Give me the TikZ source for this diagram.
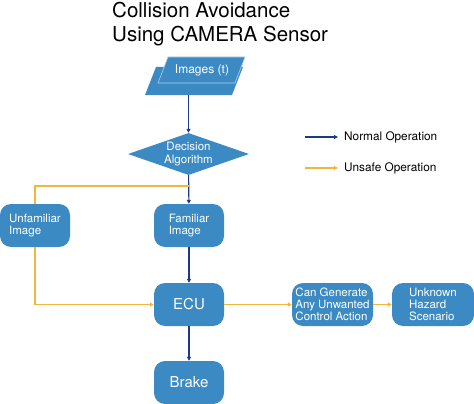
\documentclass[tikz,border=0pt]{standalone}
\usepackage{fontspec}
\setmainfont{TeX Gyre Heros}
\usetikzlibrary{shapes.geometric,arrows.meta}

\definecolor{boxblue}{HTML}{3B8AC4}
\definecolor{navy}{HTML}{1B3A8C}
\definecolor{amber}{HTML}{F4B63A}

\tikzset{
  block/.style={rounded corners=11pt, fill=boxblue, text=white, align=left,
    minimum width=70pt, minimum height=43pt, inner sep=2pt,
    font=\fontsize{11.5}{12.3}\selectfont},
  bigblock/.style={block, font=\fontsize{15}{16}\selectfont},
  normal/.style={navy, line width=1.1pt, -{Triangle[length=4pt,width=4pt]}},
  unsafe/.style={amber, line width=1.1pt},
  unsafearrow/.style={unsafe, -{Triangle[length=4pt,width=4pt]}},
}

\begin{document}
\begin{tikzpicture}[x=1pt,y=-1pt]
      \useasboundingbox (0,0) rectangle (474,404);

      % Draw the title
      \node[anchor=north west, align=left, inner sep=0,
        font=\fontsize{20.5}{23.5}\selectfont] (title) at (112,2)
        {Collision Avoidance\\Using CAMERA Sensor};

      % Draw the input images
      \fill[boxblue] (145,95) -- (156,67) -- (243,67) -- (232,95) -- cycle;
      \filldraw[fill=boxblue, draw=white!60!boxblue, line width=0.6pt]
        (158,83) -- (168,57) -- (245,57) -- (235,83) -- cycle;
      \node[text=white, font=\fontsize{12}{13}\selectfont] (img) at (202,70) {Images (t)};
      \coordinate (imgout) at (188.5,95);

      % Draw the decision
      \node[diamond, fill=boxblue, text=white, aspect=2.9, inner sep=0,
        minimum width=121pt, minimum height=42pt, align=center,
        font=\fontsize{11.5}{12.3}\selectfont] (dec) at (188.5,154) {Decision\\Algorithm};

      % Draw the blocks
      \node[block] (unfam) at (35,225.5) {Unfamiliar\\Image};
      \node[block] (fam) at (189,225.5) {Familiar\\Image};
      \node[bigblock] (ecu) at (189,304.5) {ECU};
      \node[bigblock] (brake) at (189,382.5) {Brake};
      \node[block, minimum width=81pt] (can) at (332.5,304.5) {Can Generate\\Any Unwanted\\Control Action};
      \node[block, minimum width=82pt] (hazard) at (433,304.5) {Unknown\\Hazard\\Scenario};

      % Draw the connectors
      \coordinate (split) at (188.5,186);
      \draw[normal] (imgout) -- (dec);
      \draw[normal] (dec) -- (fam);
      \draw[unsafe] (split) -| (unfam);
      \draw[unsafearrow] (unfam) |- (ecu);
      \draw[normal] (fam) -- (ecu);
      \draw[normal] (ecu) -- (brake);
      \draw[unsafearrow] (ecu) -- (can);
      \draw[unsafearrow] (can) -- (hazard);

      % Draw the legend
      \coordinate (na) at (305,137);
      \coordinate (nb) at (338,137);
      \coordinate (ua) at (305,168);
      \coordinate (ub) at (338,168);
      \draw[normal] (na) -- (nb);
      \draw[unsafearrow] (ua) -- (ub);
      \node[anchor=west, inner sep=0, font=\fontsize{11.8}{13}\selectfont] (normtext) at (344,137) {Normal Operation};
      \node[anchor=west, inner sep=0, font=\fontsize{11.8}{13}\selectfont] (unsafetext) at (344,168) {Unsafe Operation};
  \end{tikzpicture}
\end{document}
